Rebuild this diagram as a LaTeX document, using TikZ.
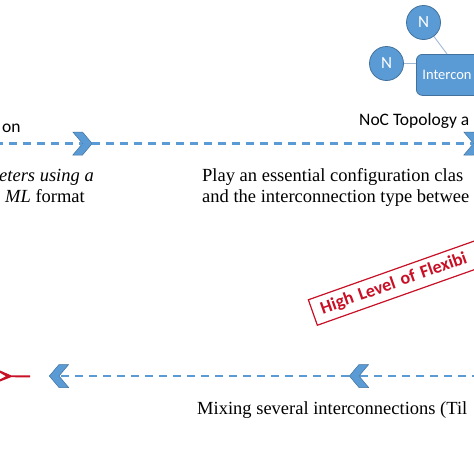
\documentclass[tikz,border=0pt]{standalone}
\usepackage{fontspec}
\setmainfont{Liberation Serif}
\newfontfamily\calibri{Carlito}
\usetikzlibrary{shapes.symbols}
\definecolor{obl}{HTML}{5B9BD5}
\definecolor{obd}{HTML}{41719C}
\definecolor{stred}{RGB}{200,16,38}
\definecolor{lnk}{HTML}{9FB8D6}
\begin{document}
\begin{tikzpicture}[x=1pt,y=-1pt,
  dashline/.style={obl, line width=2.6pt, dash pattern=on 8pt off 6pt},
  chevR/.style={signal, signal from=west, signal to=east, signal pointer angle=100,
    fill=obl, draw=obd, line width=0.5pt, minimum width=17pt, minimum height=23pt, inner sep=0pt},
  chevL/.style={signal, signal from=east, signal to=west, signal pointer angle=100,
    fill=obl, draw=obd, line width=0.5pt, minimum width=17pt, minimum height=23pt, inner sep=0pt},
  serif/.style={inner sep=0pt, anchor=base west, font=\fontsize{18.5}{21}\selectfont},
  sans/.style={inner sep=0pt, anchor=base west, font=\calibri\fontsize{17.5}{20}\selectfont},
  ncirc/.style={circle, fill=obl, draw=obd, line width=0.8pt, minimum size=34pt, inner sep=0pt,
    text=white, font=\calibri\fontsize{17}{20}\selectfont},
  icbox/.style={rectangle, rounded corners=6pt, fill=obl, draw=obd, line width=0.8pt,
    minimum height=41pt, text width=100pt, align=left, inner xsep=6pt, anchor=north west,
    text=white, font=\calibri\fontsize{14.5}{17}\selectfont},
  link/.style={lnk, line width=0.9pt},
  stamp/.style={draw=stred, line width=1.2pt, text=stred, fill=white,
    font=\calibri\bfseries\fontsize{18}{20}\selectfont, minimum height=27pt,
    text width=200pt, align=left, inner xsep=9pt, inner ysep=0pt}
]
\useasboundingbox (0,0) rectangle (474,474);
\clip (0,0) rectangle (474,474);

% top-right interconnection sketch
\node[icbox] (ic) at (416,54) {Intercon};
\node[ncirc] (n1) at (423.5,22.5) {N};
\node[ncirc] (n2) at (386.5,63.5) {N};
\coordinate (t1) at (447,54);
\draw[link] (n1) -- (t1);
\draw[link] (n2) -- (n2 -| ic.west);

% top row
\node[sans] (lon) at (2,132) {on};
\node[sans] (noc) at (359,125) {NoC Topology a};
\coordinate (s1) at (-5,143.5);
\node[chevR] (c1) at (82.5,143.5) {};
\node[chevR] (c2) at (473.5,143.5) {};
\draw[dashline] (s1) -- (c1);
\draw[dashline] (c1) -- (c2);

\node[serif, font=\itshape\fontsize{18.5}{21}\selectfont] (l1) at (-1,181) {eters using a};
\node[serif] (l2) at (5,202) {\textit{ML} format};
\node[serif] (r1) at (202,181) {Play an essential configuration clas};
\node[serif] (r2) at (202,202) {and the interconnection type betwee};

% stamp
\node[stamp, rotate=19.5, anchor=south west] (hl) at (317,326) {High Level of Flexibi};

% bottom row
\coordinate (s2) at (480,376);
\node[chevL] (c4) at (359,376) {};
\node[chevL] (c3) at (59,376) {};
\draw[dashline] (s2) -- (c4);
\draw[dashline] (c4) -- (c3);
\node[serif] (b1) at (197,414) {Mixing several interconnections (Til};

% red arrow end at left
\fill[stred] (0,370.5) -- (11,375.3) -- (30,375.3) -- (30,377.4) -- (11,377.2) -- (0,381.5)
  -- (0,379.3) -- (6,376.3) -- (0,372.7) -- cycle;
\end{tikzpicture}
\end{document}
